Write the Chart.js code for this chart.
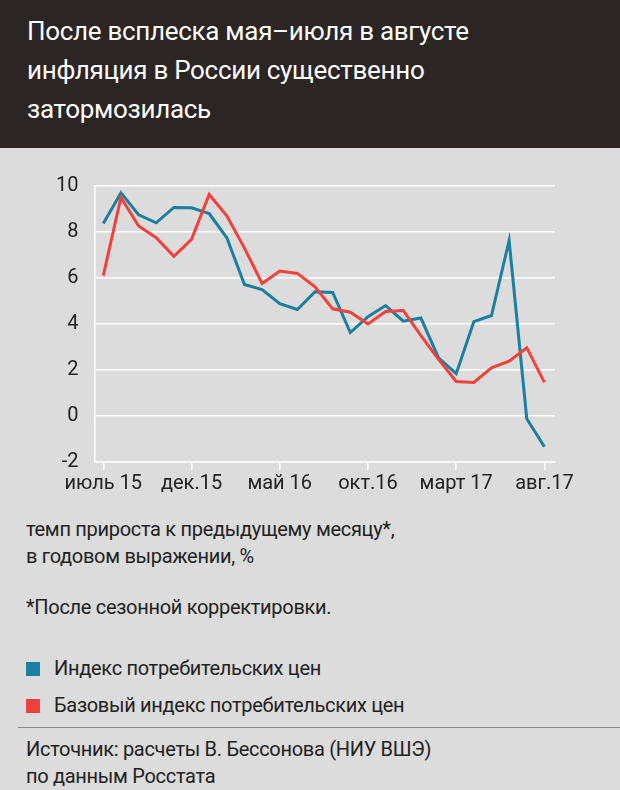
<!DOCTYPE html>
<html><head><meta charset="utf-8">
<script src="https://cdn.jsdelivr.net/npm/chart.js@4"></script>
<style>
body{margin:0;width:620px;height:790px;background:#dcdcdc;font-family:"Roboto",sans-serif;overflow:hidden}
.head{background:#2b2523;color:#fff;height:148px;box-sizing:border-box;padding:12px 0 0 27px;font-size:26px;line-height:39px;letter-spacing:-0.3px}
.chart{position:relative;width:600px;height:340px;margin:10px 0 0 10px}
.t{color:#222;font-size:20px;line-height:27px;padding-left:26px;letter-spacing:-0.3px}
.leg{display:flex;align-items:center;gap:14px}
.sq{width:14px;height:14px;display:inline-block}
hr{border:0;border-top:1px solid #888;margin:0 0 0 18px;width:602px}
</style></head><body>
<div class="head">После всплеска мая–июля в августе<br>инфляция в России существенно<br>затормозилась</div>
<div class="chart"><canvas id="c"></canvas></div>
<div class="t" style="margin-top:18px">темп прироста к предыдущему месяцу*,<br>в годовом выражении, %</div>
<div class="t" style="margin-top:24px">*После сезонной корректировки.</div>
<div class="t leg" style="margin-top:34px"><span class="sq" style="background:#1a7fa0"></span>Индекс потребительских цен</div>
<div class="t leg" style="margin-top:10px"><span class="sq" style="background:#f2413a"></span>Базовый индекс потребительских цен</div>
<hr style="margin-top:8px">
<div class="t" style="margin-top:8px">Источник: расчеты В. Бессонова (НИУ ВШЭ)<br>по данным Росстата</div>
<script>
const tickLabels = ['июль 15', 'дек.15', 'май 16', 'окт.16', 'март 17', 'авг.17'];
const tickIdx = [0, 5, 10, 15, 20, 25];
const cpi = [8.37, 9.7, 8.75, 8.4, 9.07, 9.05, 8.8, 7.75, 5.72, 5.5, 4.88, 4.63, 5.4, 5.37, 3.63, 4.32, 4.8, 4.12, 4.26, 2.53, 1.84, 4.1, 4.37, 7.63, -0.12, -1.34];
const core = [6.1, 9.5, 8.26, 7.75, 6.94, 7.68, 9.63, 8.7, 7.3, 5.76, 6.3, 6.2, 5.62, 4.66, 4.51, 4.0, 4.54, 4.59, 3.49, 2.46, 1.5, 1.46, 2.09, 2.38, 2.97, 1.46];

const pts = arr => arr.map((v, i) => ({x: i, y: v}));
const font = {family: 'Roboto, sans-serif', size: 20};

new Chart(document.getElementById('c'), {
    type: 'line',
    data: {
        datasets: [
            {data: pts(core), borderColor: '#f2413a', borderWidth: 3, pointRadius: 0, tension: 0},
            {data: pts(cpi), borderColor: '#1a7fa0', borderWidth: 3, pointRadius: 0, tension: 0}
        ]
    },
    options: {
        responsive: true, maintainAspectRatio: false, animation: false,
        plugins: {legend: {display: false}, tooltip: {enabled: false}},
        layout: {padding: {left: 30, right: 55}},
        scales: {
            x: {
                type: 'linear', min: -0.5, max: 25.6,
                afterBuildTicks: axis => { axis.ticks = tickIdx.map(v => ({value: v})); },
                ticks: {color: '#222', font, padding: 2, maxRotation: 0, callback: v => tickLabels[tickIdx.indexOf(v)]},
                grid: {drawOnChartArea: false, color: '#fff', lineWidth: 1.5, tickLength: 8},
                border: {color: '#fff', width: 1.5}
            },
            y: {
                min: -2, max: 10,
                ticks: {stepSize: 2, color: '#222', font, padding: 16},
                grid: {color: '#fff', lineWidth: 1.5, drawTicks: false},
                border: {color: '#fff', width: 1.5}
            }
        }
    }
});
</script>
</body></html>
